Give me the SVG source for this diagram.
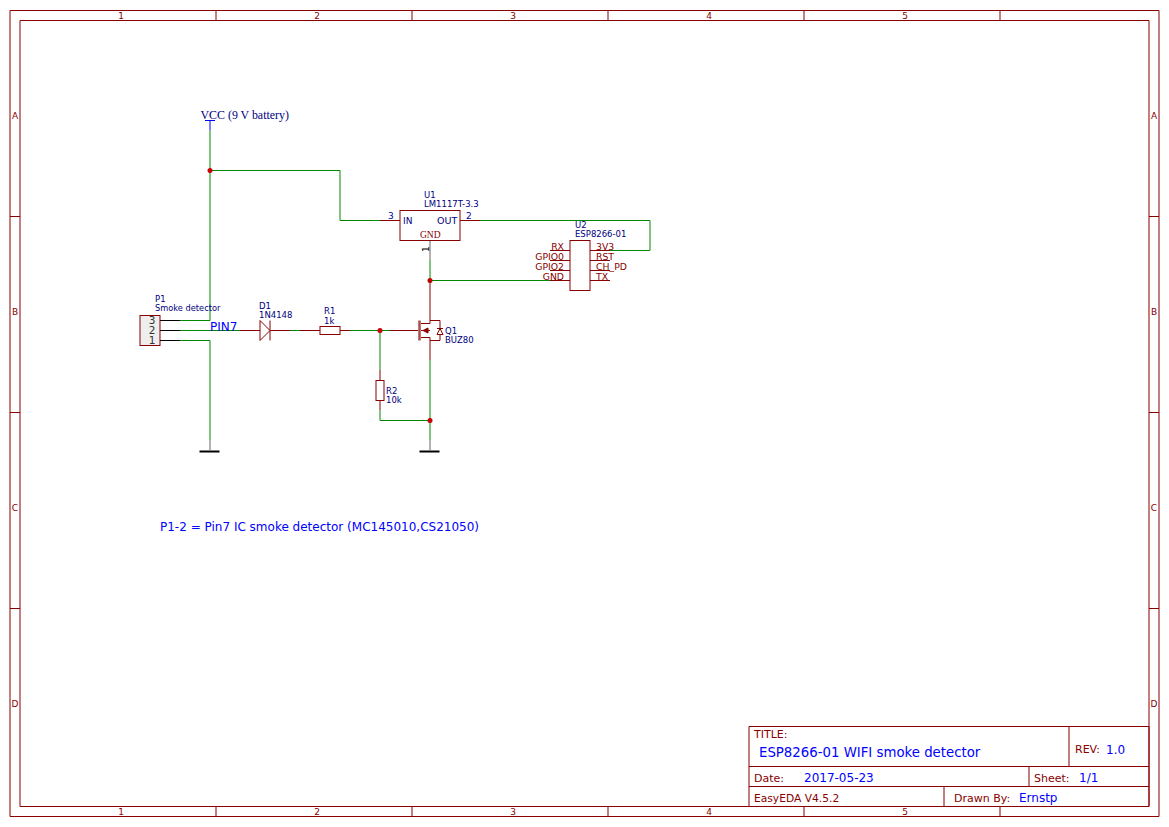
<svg xmlns="http://www.w3.org/2000/svg" width="1169" height="827" viewBox="0 0 1169 827">
<style>
text{font-family:"DejaVu Sans",sans-serif;white-space:pre}
.f{fill:none;stroke:#880000;stroke-width:1}
.w{fill:none;stroke:#008800;stroke-width:1}
.p{fill:none;stroke:#880000;stroke-width:1}
.k{fill:none;stroke:#000;stroke-width:1}
.j{fill:#cc0000}
.t{font-size:9px;fill:#880000;text-anchor:middle}
.tb{font-size:11px;fill:#880000}
.tv{font-size:13.3px;fill:#0000ff}
.n{font-size:8.5px;fill:#000080}
.pn{font-size:9.3px;fill:#880000}
</style>
<rect width="1169" height="827" fill="#fff"/>
<g id="frame">
<path class="f" d="M10 10.5H1159V816.5H10ZM20 20.5H1149V806.5H20ZM216 10.5V20.5M412 10.5V20.5M608 10.5V20.5M804 10.5V20.5M1000 10.5V20.5M216 806.5V816.5M412 806.5V816.5M608 806.5V816.5M804 806.5V816.5M1000 806.5V816.5M10 216.5H20M10 412.5H20M10 608.5H20M1149 216.5H1159M1149 412.5H1159M1149 608.5H1159"/>
<text class="t" x="121" y="19">1</text><text class="t" x="317" y="19">2</text><text class="t" x="513" y="19">3</text><text class="t" x="709" y="19">4</text><text class="t" x="905" y="19">5</text>
<text class="t" x="121" y="815">1</text><text class="t" x="317" y="815">2</text><text class="t" x="513" y="815">3</text><text class="t" x="709" y="815">4</text><text class="t" x="905" y="815">5</text>
<text class="t" x="15" y="119">A</text><text class="t" x="15" y="315">B</text><text class="t" x="15" y="511">C</text><text class="t" x="15" y="707">D</text>
<text class="t" x="1154" y="119">A</text><text class="t" x="1154" y="315">B</text><text class="t" x="1154" y="511">C</text><text class="t" x="1154" y="707">D</text>
</g>
<g id="title-block">
<path class="f" d="M749 726.5H1149V806.5H749ZM749 766.5H1149M749 786.5H1149M1069 726.5V766.5M1029 766.5V786.5M944 786.5V806.5"/>
<text class="tb" x="754" y="738">TITLE:</text>
<text class="tv" x="759" y="757">ESP8266-01 WIFI smoke detector</text>
<text class="tb" x="1075" y="753">REV:</text>
<text class="tv" x="1106" y="754" style="font-size:12px">1.0</text>
<text class="tb" x="754" y="782">Date:</text>
<text class="tv" x="804" y="781.500" style="font-size:12px">2017-05-23</text>
<text class="tb" x="1034" y="782">Sheet:</text>
<text class="tv" x="1079" y="781.500" style="font-size:12px">1/1</text>
<text class="tb" x="754" y="802" style="font-size:10.700px">EasyEDA V4.5.2</text>
<text class="tb" x="954" y="802">Drawn By:</text>
<text class="tv" x="1019" y="802" style="font-size:12px">Ernstp</text>
</g>
<g id="connectors">
<path class="w" d="M210 130.5V320.5H180"/>
<path class="w" d="M180 330.5H240"/>
<path class="w" d="M180 340.5H210V440.5"/>
<path class="w" d="M210 170.5H340V220.5H380"/>
<path class="w" d="M290 330.5H300"/>
<path class="w" d="M350 330.5H390"/>
<path class="w" d="M380 330.5V370"/>
<path class="w" d="M380 410V420.5H430"/>
<path class="w" d="M430 360V440.5"/>
<path class="w" d="M430 260V280.5"/>
<path class="w" d="M430 280.5H550"/>
<path class="w" d="M480 220.5H650V250.5H610"/>
</g>
<g id="junctions">
<circle class="j" cx="210" cy="170.5" r="2.5"/>
<circle class="j" cx="430" cy="280.5" r="2.5"/>
<circle class="j" cx="380" cy="330.5" r="2.5"/>
<circle class="j" cx="430" cy="420.5" r="2.5"/>
</g>
<g id="vcc">
<path d="M210 120.5V130.5M205 120.5H215" fill="none" stroke="#0000ff"/>
<text x="200.500" y="119" style="font-family:'Liberation Serif',serif;font-size:11.900px" fill="#000080">VCC (9 V battery)</text>
</g>
<g id="gnd1"><path d="M210 440.5V450" class="k" stroke-opacity=".6"/><path d="M199.500 451.500H219.500" stroke="#000" stroke-width="2" fill="none"/></g>
<g id="gnd2"><path d="M430 440.5V450" class="k" stroke-opacity=".6"/><path d="M419.500 451.500H439.500" stroke="#000" stroke-width="2" fill="none"/></g>
<g id="P1">
<rect x="140" y="315.5" width="20" height="30" fill="#eeeeee" stroke="#880000" stroke-width="1"/>
<path class="k" d="M160 320.5H180M160 330.5H180M160 340.5H180"/>
<text x="152" y="323.800" font-size="10.500" text-anchor="middle" fill="#333">3</text>
<text x="152" y="333.800" font-size="10.500" text-anchor="middle" fill="#333">2</text>
<text x="152" y="343.800" font-size="10.500" text-anchor="middle" fill="#333">1</text>
<text class="n" x="155" y="302">P1</text>
<text class="n" x="155" y="311" style="font-size:8.250px">Smoke detector</text>
</g>
<text id="pin7" x="210" y="331" font-size="12" fill="#0000ff">PIN7</text>
<g id="D1">
<path class="p" d="M240 330.5H260M270 330.5H290M260 320.5V340.5M260 320.5L270 330.5L260 340.5M270 320.500V340.500"/>
<text class="n" x="259" y="309">D1</text>
<text class="n" x="259" y="318">1N4148</text>
</g>
<g id="R1">
<path class="p" d="M300 330.5H320M340 330.5H350"/>
<rect class="p" x="320" y="326.5" width="20" height="8"/>
<text class="n" x="324" y="314">R1</text>
<text class="n" x="324" y="324">1k</text>
</g>
<g id="R2">
<path class="p" d="M380 370V380M380 400V410"/>
<rect class="p" x="376" y="380.500" width="8" height="20"/>
<text class="n" x="386" y="394">R2</text>
<text class="n" x="386" y="403">10k</text>
</g>
<g id="U1">
<rect class="p" x="400" y="210.5" width="60" height="30"/>
<path class="p" d="M380 220.500H400M460 220.500H480"/>
<path class="k" d="M430 240.500V260" stroke-opacity=".6"/>
<text x="429" y="249" font-size="9" fill="#000" transform="rotate(-90 429 249)" text-anchor="middle">1</text>
<text x="388" y="219" font-size="9" fill="#0000a0">3</text>
<text x="466" y="219" font-size="9" fill="#0000a0">2</text>
<text x="403" y="224" font-size="9" fill="#000080">IN</text>
<text x="437" y="224" font-size="9.500" fill="#000080">OUT</text>
<text x="420" y="238" style="font-family:'Liberation Serif',serif;font-size:9.500px" fill="#880000">GND</text>
<text class="n" x="424" y="198">U1</text>
<text class="n" x="424" y="207">LM1117T-3.3</text>
</g>
<g id="U2">
<rect class="p" x="570" y="240.5" width="20" height="50"/>
<path class="p" d="M550 250.500H570M550 260.500H570M550 270.500H570M550 280.500H570M590 250.500H610M590 260.500H610M590 270.500H610M590 280.500H610"/>
<g class="pn">
<text x="564" y="250" text-anchor="end">RX</text>
<text x="564" y="260" text-anchor="end">GPIO0</text>
<text x="564" y="270" text-anchor="end">GPIO2</text>
<text x="564" y="280" text-anchor="end">GND</text>
<text x="596" y="250">3V3</text>
<text x="596" y="260">RST</text>
<text x="596" y="270">CH_PD</text>
<text x="596" y="280">TX</text>
</g>
<text class="n" x="575" y="228">U2</text>
<text class="n" x="575" y="237">ESP8266-01</text>
</g>
<g id="Q1">
<path class="p" d="M430 280.500V323.500M430 337.500V360"/>
<path class="p" d="M390 330.500H418"/>
<path d="M419.500 320.500V340.500" fill="none" stroke="#880000" stroke-width="2.500" stroke-opacity=".7"/>
<path class="p" d="M421 323.500H430M421 330.500H430M421 337.500H430"/>
<path class="p" d="M430 320.500H440V328M440 334V340.500H430"/>
<path class="p" d="M437 328.500H443M437 334.500H443M440 328.500L437 334.500H443Z"/>
<path d="M423 330.500L428 328V333Z" fill="#880000" stroke="#880000"/>
<text class="n" x="445" y="334">Q1</text>
<text class="n" x="445" y="343">BUZ80</text>
</g>
<text id="note" x="160" y="531" font-size="12" fill="#0000ff">P1-2 = Pin7 IC smoke detector (MC145010,CS21050)</text>
</svg>
